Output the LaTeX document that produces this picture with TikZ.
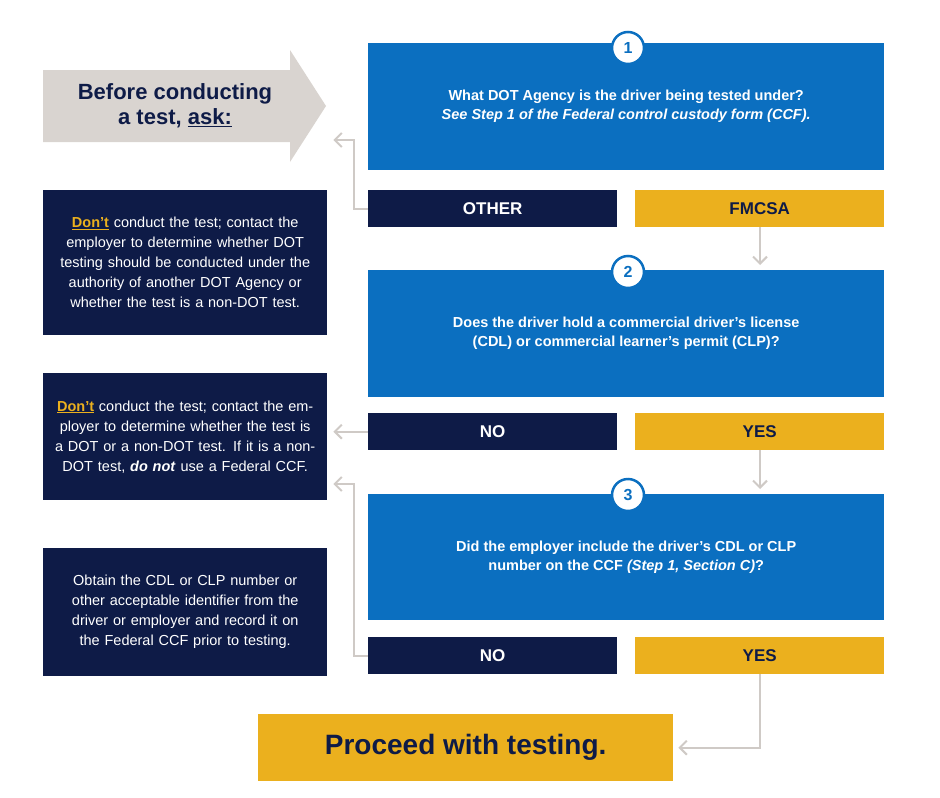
\documentclass[tikz,border=0pt]{standalone}
\usepackage{fontspec}
\setmainfont{Liberation Sans}
\usetikzlibrary{arrows.meta}
\definecolor{blu}{HTML}{0B6FC0}
\definecolor{navy}{HTML}{0E1B47}
\definecolor{gold}{HTML}{EBB01E}
\definecolor{lgray}{HTML}{D9D4D0}
\definecolor{agray}{HTML}{CFCAC6}
\newcommand{\dont}{\textcolor{gold}{\textbf{\underline{Don’t}}}}
\tikzset{
 qbox/.style={fill=blu,minimum width=516,minimum height=127,anchor=north west,inner sep=0,text=white,font=\fontsize{14.5}{19}\selectfont\bfseries,align=center},
 nbox/.style={fill=navy,minimum width=249,minimum height=37,anchor=north west,inner sep=0,text=white,font=\fontsize{17}{20}\selectfont\bfseries},
 gbox/.style={fill=gold,minimum width=249,minimum height=37,anchor=north west,inner sep=0,text=navy,font=\fontsize{17}{20}\selectfont\bfseries},
 sbox/.style={fill=navy,minimum width=284,anchor=north west,inner sep=0,text=white,font=\fontsize{14.5}{20}\selectfont,align=center,text width=270},
 num/.style={circle,draw=blu,line width=2.5,fill=white,minimum size=32,inner sep=0,text=blu,font=\fontsize{16}{16}\selectfont\bfseries},
 conn/.style={draw=agray,line width=2,-{Straight Barb[length=7,width=14]}}
}
\begin{document}
\begin{tikzpicture}[x=1pt,y=-1pt]
\useasboundingbox (0,0) rectangle (940,798);
\fill[lgray] (43,70) -- (290,70) -- (290,50) -- (326,106) -- (290,162) -- (290,142) -- (43,142) -- cycle;
\node[text=navy,font=\fontsize{22}{25}\selectfont\bfseries,align=center] (ask) at (175,106) {Before conducting\\a test, \underline{ask:}};
% step 1
\node[qbox,minimum height=127] (q1) at (368,43) {What DOT Agency is the driver being tested under?\\\textit{See Step 1 of the Federal control custody form (CCF).}};
\node[num] (n1) at (628,48) {1};
\node[nbox] (other) at (368,190) {OTHER};
\node[gbox] (fm) at (635,190) {FMCSA};
\node[sbox,minimum height=145] (s1) at (43,190) {\dont{} conduct the test; contact the employer to determine whether DOT testing should be conducted under the authority of another DOT Agency or whether the test is a non-DOT test.};
% step 2
\node[qbox] (q2) at (368,270) {Does the driver hold a commercial driver’s license\\(CDL) or commercial learner’s permit (CLP)?};
\node[num] (n2) at (628,272) {2};
\node[nbox] (no1) at (368,413) {NO};
\node[gbox] (yes1) at (635,413) {YES};
\node[sbox,minimum height=127] (s2) at (43,373) {\dont{} conduct the test; contact the employer to determine whether the test is a DOT or a non-DOT test. If it is a non-DOT test, \textbf{\textit{do not}} use a Federal CCF.};
% step 3
\node[qbox,minimum height=126] (q3) at (368,494) {Did the employer include the driver’s CDL or CLP\\number on the CCF \textit{(Step 1, Section C)}?};
\node[num] (n3) at (628,495) {3};
\node[nbox] (no2) at (368,637) {NO};
\node[gbox] (yes2) at (635,637) {YES};
\node[sbox,minimum height=128] (s3) at (43,548) {Obtain the CDL or CLP number or other acceptable identifier from the driver or employer and record it on the Federal CCF prior to testing.};
\node[fill=gold,minimum width=415,minimum height=67,anchor=north west,inner sep=0,text=navy,font=\fontsize{28}{30}\selectfont\bfseries] (go) at (258,714) {Proceed with testing.};
% connectors
\draw[conn] (other.west) -- ++(-14,0) |- ([xshift=6,yshift=50]s1.north east);
\draw[conn] (fm.south -| 760,0) -- (760,265);
\draw[conn] (no1.west) -- ([xshift=6]no1.west -| s2.east);
\draw[conn] (yes1.south -| 760,0) -- (760,489);
\draw[conn] (no2.west) -- ++(-14,0) |- ([xshift=6,yshift=64]s3.north east);
\draw[conn] (yes2.south -| 760,0) |- ([xshift=5]go.east);
\end{tikzpicture}
\end{document}
